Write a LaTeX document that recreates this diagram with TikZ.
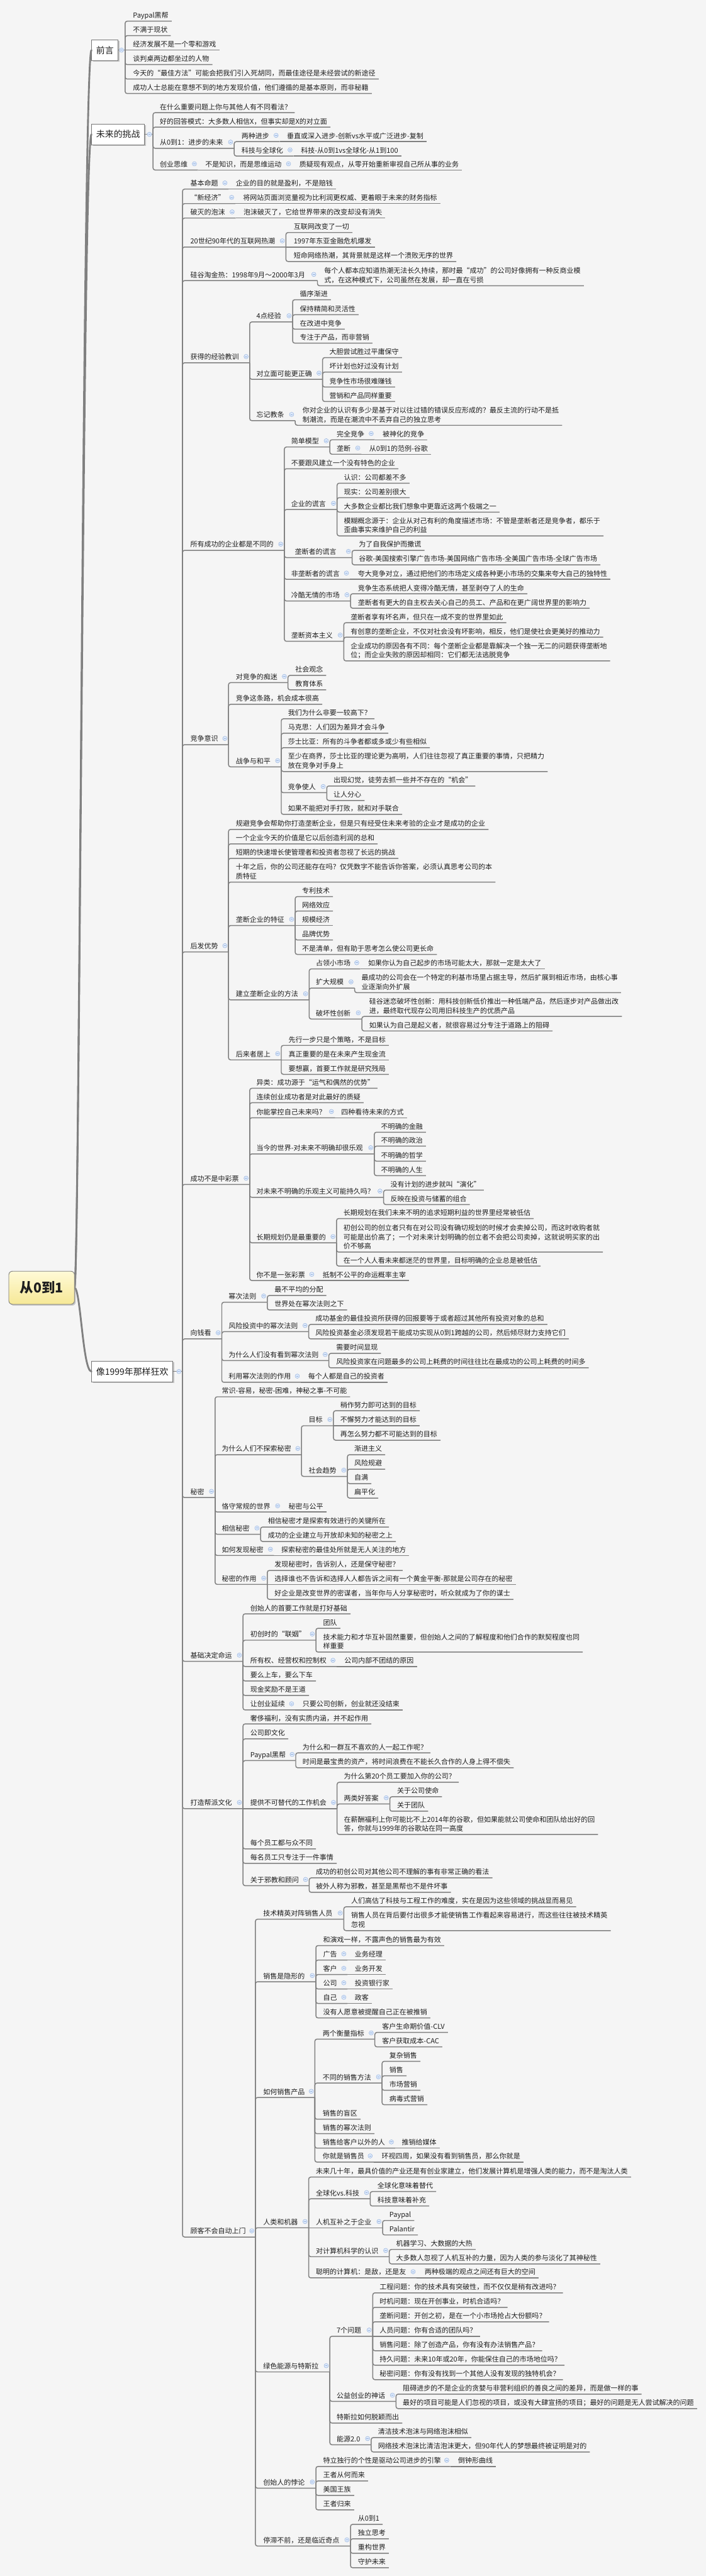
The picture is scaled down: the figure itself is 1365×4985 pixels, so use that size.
\documentclass[tikz,border=0pt]{standalone}
\usepackage{fontspec}
\newfontfamily\cjk{Noto Sans CJK SC}
\usepackage{xcolor}
\usepackage{tikz}
\usetikzlibrary{shadows}
\definecolor{bggray}{RGB}{245,245,245}
\definecolor{linegray}{RGB}{128,128,128}
\definecolor{boxedge}{RGB}{118,118,118}
\definecolor{shadowgray}{RGB}{150,150,150}
\definecolor{roottop}{RGB}{255,250,215}
\definecolor{rootbot}{RGB}{246,232,150}
\definecolor{foldfill}{RGB}{222,234,252}
\definecolor{foldedge}{RGB}{150,178,220}
\definecolor{inkgray}{RGB}{30,30,30}

\newcommand\tstrut{\rule[-4pt]{0pt}{4pt}}
% leaf: name, parent junction, x, underline y, text
\newcommand\tleaf[5]{%
  \node[topic] (#1) at (#3,#4-2) {#5\tstrut};
  \path (#1.east) ++(6,0) coordinate (#1-e);
  \draw[ln] (#2) |- (#1-e |- 0,#4);}
% leaf on the level of its parent
\newcommand\tleafs[5]{%
  \node[topic] (#1) at (#3,#4-2) {#5\tstrut};
  \path (#1.east) ++(6,0) coordinate (#1-e);
  \draw[ln] (#2) -- (#1-e |- 0,#4);}
% topic with children: name, parent junction, x, underline y, junction x, text
\newcommand\tnode[6]{%
  \node[topic] (#1) at (#3,#4-2) {#6\tstrut};
  \coordinate (#1-u) at (#5,#4);
  \draw[ln] (#2) |- (#1-u);
  \node[fold] (#1-f) at (#5-7,#4-12) {};}
\newcommand\tnodes[6]{%
  \node[topic] (#1) at (#3,#4-2) {#6\tstrut};
  \coordinate (#1-u) at (#5,#4);
  \draw[ln] (#2) -- (#1-u);
  \node[fold] (#1-f) at (#5-7,#4-12) {};}

\begin{document}
\begin{tikzpicture}[x=1pt, y=-1pt,
    topic/.style={anchor=south west, inner sep=0pt, align=left, text=inkgray,
                  font=\cjk\fontsize{13.4}{18}\selectfont},
    ln/.style={draw=linegray, line width=1.8pt, rounded corners=4pt},
    trunk/.style={draw=linegray, line width=3.5pt, line cap=round},
    fold/.style={circle, draw=foldedge, fill=foldfill, line width=0.6pt,
                 minimum size=8.5pt, inner sep=0pt,
                 path picture={\draw[foldedge, line width=0.9pt]
                   ([xshift=-2.2pt]path picture bounding box.center) --
                   ([xshift=2.2pt]path picture bounding box.center);}},
    mainbox/.style={draw=boxedge, fill=white, line width=1pt, anchor=west,
                    minimum height=40pt, inner xsep=8.5pt, text=inkgray,
                    font=\cjk\fontsize{17}{20}\selectfont,
                    drop shadow={shadow xshift=2.5pt, shadow yshift=-2.5pt, fill=shadowgray}},
    rootbox/.style={draw=boxedge, line width=1pt, rounded corners=7pt,
                    top color=roottop, bottom color=rootbot,
                    minimum width=127pt, minimum height=64pt, text=inkgray,
                    font=\cjk\bfseries\fontsize{26}{30}\selectfont,
                    drop shadow={shadow xshift=2.5pt, shadow yshift=-2.5pt, fill=shadowgray}}]

    % BACKGROUND
    \fill[bggray] (0,0) rectangle (1365,4985);
    \useasboundingbox (0,0) rectangle (1365,4985);

    % ROOT
    \coordinate (rt) at (144,2492);
    \node[mainbox] (qy) at (177,97) {前言};
    \node[mainbox] (wl) at (177,260) {未来的挑战};
    \node[mainbox] (kh) at (177,2654) {像1999年那样狂欢};
    \draw[trunk] (rt) .. controls (154,2492) and (160,97) .. (qy.west);
    \draw[trunk] (rt) .. controls (154,2492) and (160,260) .. (wl.west);
    \draw[trunk] (rt) .. controls (156,2492) and (160,2654) .. (kh.west);
    \node[rootbox] (root) at (80.5,2492) {从0到1};

    % BRANCH: 前言
    \coordinate (qy-u) at (242,97);
    \draw[ln] (qy.east) -- (qy-u);
    \node[fold] (qy-f) at (235,97) {};
    \tleaf{a1}{qy-u}{257}{41}{Paypal黑帮}
    \tleaf{a2}{qy-u}{257}{69}{不满于现状}
    \tleafs{a3}{qy-u}{257}{97}{经济发展不是一个零和游戏}
    \tleaf{a4}{qy-u}{257}{125}{谈判桌两边都坐过的人物}
    \tleaf{a5}{qy-u}{257}{153}{今天的“最佳方法”可能会把我们引入死胡同，而最佳途径是未经尝试的新途径}
    \tleaf{a6}{qy-u}{257}{181}{成功人士总能在意想不到的地方发现价值，他们遵循的是基本原则，而非秘籍}

    % BRANCH: 未来的挑战
    \coordinate (wl-u) at (296,260);
    \draw[ln] (wl.east) -- (wl-u);
    \node[fold] (wl-f) at (289,260) {};
    \tleaf{b1}{wl-u}{309}{218}{在什么重要问题上你与其他人有不同看法？}
    \tleaf{b2}{wl-u}{309}{246}{好的回答模式：大多数人相信X，但事实却是X的对立面}
    \tnode{b3}{wl-u}{309}{287}{453}{从0到1：进步的未来}
    \tnode{b31}{b3-u}{467}{274}{541}{两种进步}
    \tleafs{b311}{b31-u}{555}{274}{垂直或深入进步-创新vs水平或广泛进步-复制}
    \tnode{b32}{b3-u}{467}{302}{568}{科技与全球化}
    \tleafs{b321}{b32-u}{582}{302}{科技-从0到1vs全球化-从1到100}
    \tnode{b4}{wl-u}{309}{329}{383}{创业思维}
    \tnodes{b41}{b4-u}{397}{329}{565}{不是知识，而是思维运动}
    \tleafs{b411}{b41-u}{579}{329}{质疑现有观点，从零开始重新审视自己所从事的业务}

    % BRANCH: 像1999年那样狂欢
    \coordinate (kh-u) at (353,2654);
    \draw[ln] (kh.east) -- (kh-u);
    \node[fold] (kh-f) at (346,2654) {};
    \tnode{c1}{kh-u}{368}{366}{442}{基本命题}
    \tleafs{c11}{c1-u}{456}{366}{企业的目的就是盈利，不是赔钱}
    \tnode{c2}{kh-u}{368}{394}{455}{“新经济”}
    \tleafs{c21}{c2-u}{470}{394}{将网站页面浏览量视为比利润更权威、更着眼于未来的财务指标}
    \tnode{c3}{kh-u}{368}{422}{456}{破灭的泡沫}
    \tleafs{c31}{c3-u}{471}{422}{泡沫破灭了，它给世界带来的改变却没有消失}
    \tnode{c4}{kh-u}{368}{478}{553}{20世纪90年代的互联网热潮}
    \tleaf{c41}{c4-u}{568}{450}{互联网改变了一切}
    \tleafs{c42}{c4-u}{568}{478}{1997年东亚金融危机爆发}
    \tleaf{c43}{c4-u}{568}{506}{短命网络热潮，其背景就是这样一个溃败无序的世界}
    \tnode{c5}{kh-u}{368}{543}{614}{硅谷淘金热：1998年9月～2000年3月}
    \tleaf{c51}{c5-u}{627}{553}{每个人都本应知道热潮无法长久持续，那时最“成功”的公司好像拥有一种反商业模\\式，在这种模式下，公司虽然在发展，却一直在亏损}

    % 获得的经验教训
    \tnode{c6}{kh-u}{368}{702}{483}{获得的经验教训}
    \tnode{c61}{c6-u}{496}{623}{566}{4点经验}
    \tleaf{c611}{c61-u}{580}{580}{循序渐进}
    \tleaf{c612}{c61-u}{580}{609}{保持精简和灵活性}
    \tleaf{c613}{c61-u}{580}{637}{在改进中竞争}
    \tleaf{c614}{c61-u}{580}{664}{专注于产品，而非营销}
    \tnode{c62}{c6-u}{496}{734}{624}{对立面可能更正确}
    \tleaf{c621}{c62-u}{637}{692}{大胆尝试胜过平庸保守}
    \tleaf{c622}{c62-u}{637}{720}{坏计划也好过没有计划}
    \tleaf{c623}{c62-u}{637}{749}{竞争性市场很难赚钱}
    \tleaf{c624}{c62-u}{637}{777}{营销和产品同样重要}
    \tnode{c63}{c6-u}{496}{814}{571}{忘记教条}
    \tleaf{c631}{c63-u}{585}{823}{你对企业的认识有多少是基于对以往过错的错误反应形成的？最反主流的行动不是抵\\制潮流，而是在潮流中不丢弃自己的独立思考}

    % 所有成功的企业都是不同的
    \tnode{c7}{kh-u}{368}{1065}{550}{所有成功的企业都是不同的}
    \tnode{c71}{c7-u}{563}{865}{638}{简单模型}
    \tnode{c711}{c71-u}{651}{851}{725}{完全竞争}
    \tleafs{c7111}{c711-u}{740}{851}{被神化的竞争}
    \tnode{c712}{c71-u}{651}{879}{699}{垄断}
    \tleafs{c7121}{c712-u}{714}{879}{从0到1的范例-谷歌}
    \tleaf{c72}{c7-u}{563}{907}{不要跟风建立一个没有特色的企业}
    \tnode{c73}{c7-u}{563}{986}{652}{企业的谎言}
    \tleaf{c731}{c73-u}{665}{935}{认识：公司都差不多}
    \tleaf{c732}{c73-u}{665}{963}{现实：公司差别很大}
    \tleaf{c733}{c73-u}{665}{991}{大多数企业都比我们想象中更靠近这两个极端之一}
    \tleaf{c734}{c73-u}{665}{1037}{模糊概念源于：企业从对己有利的角度描述市场：不管是垄断者还是竞争者，都乐于\\歪曲事实来维护自己的利益}
    \tnode{c74}{c7-u}{570}{1079}{681}{垄断者的谎言}
    \tleaf{c741}{c74-u}{694}{1065}{为了自我保护而撒谎}
    \tleaf{c742}{c74-u}{694}{1093}{谷歌-美国搜索引擎广告市场-美国网络广告市场-全美国广告市场-全球广告市场}
    \tnode{c75}{c7-u}{563}{1121}{677}{非垄断者的谎言}
    \tleafs{c751}{c75-u}{692}{1121}{夸大竞争对立，通过把他们的市场定义成各种更小市场的交集来夸大自己的独特性}
    \tnode{c76}{c7-u}{563}{1163}{678}{冷酷无情的市场}
    \tleaf{c761}{c76-u}{692}{1149}{竞争生态系统把人变得冷酷无情，甚至剥夺了人的生命}
    \tleaf{c762}{c76-u}{692}{1177}{垄断者有更大的自主权去关心自己的员工、产品和在更广阔世界里的影响力}
    \tnode{c77}{c7-u}{563}{1241}{665}{垄断资本主义}
    \tleaf{c771}{c77-u}{678}{1205}{垄断者享有坏名声，但只在一成不变的世界里如此}
    \tleaf{c772}{c77-u}{678}{1233}{有创意的垄断企业，不仅对社会没有坏影响，相反，他们是使社会更美好的推动力}
    \tleaf{c773}{c77-u}{678}{1279}{企业成功的原因各有不同：每个垄断企业都是靠解决一个独一无二的问题获得垄断地\\位；而企业失败的原因却相同：它们都无法逃脱竞争}

    % 竞争意识
    \tnode{c8}{kh-u}{368}{1441}{442}{竞争意识}
    \tnode{c81}{c8-u}{456}{1321}{557}{对竞争的痴迷}
    \tleaf{c811}{c81-u}{571}{1307}{社会观念}
    \tleaf{c812}{c81-u}{571}{1335}{教育体系}
    \tleaf{c82}{c8-u}{456}{1363}{竞争这条路，机会成本很高}
    \tnode{c83}{c8-u}{456}{1484}{544}{战争与和平}
    \tleaf{c831}{c83-u}{557}{1391}{我们为什么非要一较高下？}
    \tleaf{c832}{c83-u}{557}{1419}{马克思：人们因为差异才会斗争}
    \tleaf{c833}{c83-u}{557}{1447}{莎士比亚：所有的斗争者都或多或少有些相似}
    \tleaf{c834}{c83-u}{557}{1493}{至少在商界，莎士比亚的理论更为高明，人们往往忽视了真正重要的事情，只把精力\\放在竞争对手身上}
    \tnode{c835}{c83-u}{557}{1534}{632}{竞争使人}
    \tleaf{c8351}{c835-u}{645}{1521}{出现幻觉，徒劳去抓一些并不存在的“机会”}
    \tleaf{c8352}{c835-u}{645}{1549}{让人分心}
    \tleaf{c836}{c83-u}{557}{1576}{如果不能把对手打败，就和对手联合}

    % 后发优势
    \tnode{c9}{kh-u}{368}{1842}{442}{后发优势}
    \tleaf{c91}{c9-u}{456}{1605}{规避竞争会帮助你打造垄断企业，但是只有经受住未来考验的企业才是成功的企业}
    \tleaf{c92}{c9-u}{456}{1633}{一个企业今天的价值是它以后创造利润的总和}
    \tleaf{c93}{c9-u}{456}{1661}{短期的快速增长使管理者和投资者忽视了长远的挑战}
    \tleaf{c94}{c9-u}{456}{1707}{十年之后，你的公司还能存在吗？仅凭数字不能告诉你答案，必须认真思考公司的本\\质特征}
    \tnode{c95}{c9-u}{456}{1791}{571}{垄断企业的特征}
    \tleaf{c951}{c95-u}{584}{1735}{专利技术}
    \tleaf{c952}{c95-u}{584}{1763}{网络效应}
    \tleafs{c953}{c95-u}{584}{1791}{规模经济}
    \tleaf{c954}{c95-u}{584}{1819}{品牌优势}
    \tleaf{c955}{c95-u}{584}{1847}{不是清单，但有助于思考怎么使公司更长命}
    \tnode{c96}{c9-u}{456}{1935}{598}{建立垄断企业的方法}
    \tnode{c961}{c96-u}{611}{1875}{697}{占领小市场}
    \tleafs{c9611}{c961-u}{712}{1875}{如果你认为自己起步的市场可能太大，那就一定是太大了}
    \tnode{c962}{c96-u}{611}{1912}{686}{扩大规模}
    \tleaf{c9621}{c962-u}{699}{1921}{最成功的公司会在一个特定的利基市场里占据主导，然后扩展到相近市场，由核心事\\业逐渐向外扩展}
    \tnode{c963}{c96-u}{611}{1972}{700}{破坏性创新}
    \tleaf{c9631}{c963-u}{714}{1967}{硅谷迷恋破坏性创新：用科技创新低价推出一种低端产品，然后逐步对产品做出改\\进，最终取代现存公司用旧科技生产的优质产品}
    \tleaf{c9632}{c963-u}{714}{1995}{如果认为自己是起义者，就很容易过分专注于道路上的阻碍}
    \tnode{c97}{c9-u}{456}{2051}{544}{后来者居上}
    \tleaf{c971}{c97-u}{558}{2023}{先行一步只是个策略，不是目标}
    \tleafs{c972}{c97-u}{558}{2051}{真正重要的是在未来产生现金流}
    \tleaf{c973}{c97-u}{558}{2079}{要想赢，首要工作就是研究残局}

    % 成功不是中彩票
    \tnode{c10}{kh-u}{368}{2292}{483}{成功不是中彩票}
    \tleaf{c101}{c10-u}{496}{2106}{异类：成功源于“运气和偶然的优势”}
    \tleaf{c102}{c10-u}{496}{2134}{连续创业成功者是对此最好的质疑}
    \tnode{c103}{c10-u}{496}{2163}{648}{你能掌控自己未来吗？}
    \tleafs{c1031}{c103-u}{660}{2163}{四种看待未来的方式}
    \tnode{c104}{c10-u}{496}{2233}{724}{当今的世界-对未来不明确却很乐观}
    \tleaf{c1041}{c104-u}{737}{2191}{不明确的金融}
    \tleaf{c1042}{c104-u}{737}{2218}{不明确的政治}
    \tleaf{c1043}{c104-u}{737}{2247}{不明确的哲学}
    \tleaf{c1044}{c104-u}{737}{2275}{不明确的人生}
    \tnode{c105}{c10-u}{496}{2317}{742}{对未来不明确的乐观主义可能持久吗？}
    \tleaf{c1051}{c105-u}{755}{2303}{没有计划的进步就叫“演化”}
    \tleaf{c1052}{c105-u}{755}{2331}{反映在投资与储蓄的组合}
    \tnode{c106}{c10-u}{496}{2405}{651}{长期规划仍是最重要的}
    \tleaf{c1061}{c106-u}{664}{2358}{长期规划在我们未来不明的追求短期利益的世界里经常被低估}
    \tleaf{c1062}{c106-u}{664}{2423}{初创公司的创立者只有在对公司没有确切规划的时候才会卖掉公司，而这时收购者就\\可能是出价高了；一个对未来计划明确的创立者不会把公司卖掉，这就说明买家的出\\价不够高}
    \tleaf{c1063}{c106-u}{664}{2450}{在一个人人看未来都迷茫的世界里，目标明确的企业总是被低估}
    \tnode{c107}{c10-u}{496}{2478}{610}{你不是一张彩票}
    \tleafs{c1071}{c107-u}{624}{2478}{抵制不公平的命运概率主宰}

    % 向钱看
    \tnode{c11}{kh-u}{368}{2591}{429}{向钱看}
    \tnode{c111}{c11-u}{442}{2520}{517}{幂次法则}
    \tleaf{c1111}{c111-u}{531}{2507}{最不平均的分配}
    \tleaf{c1112}{c111-u}{531}{2535}{世界处在幂次法则之下}
    \tnode{c112}{c11-u}{442}{2577}{597}{风险投资中的幂次法则}
    \tleaf{c1121}{c112-u}{610}{2563}{成功基金的最佳投资所获得的回报要等于或者超过其他所有投资对象的总和}
    \tleaf{c1122}{c112-u}{610}{2591}{风险投资基金必须发现若干能成功实现从0到1跨越的公司，然后倾尽财力支持它们}
    \tnode{c113}{c11-u}{442}{2633}{636}{为什么人们没有看到幂次法则}
    \tleaf{c1131}{c113-u}{650}{2619}{需要时间显现}
    \tleaf{c1132}{c113-u}{650}{2647}{风险投资家在问题最多的公司上耗费的时间往往比在最成功的公司上耗费的时间多}
    \tnode{c114}{c11-u}{442}{2675}{582}{利用幂次法则的作用}
    \tleafs{c1141}{c114-u}{596}{2675}{每个人都是自己的投资者}

    % 秘密
    \tnode{c12}{kh-u}{368}{2898}{416}{秘密}
    \tleaf{c121}{c12-u}{429}{2703}{常识-容易，秘密-困难，神秘之事-不可能}
    \tnode{c122}{c12-u}{429}{2815}{583}{为什么人们不探索秘密}
    \tnode{c1221}{c122-u}{597}{2759}{645}{目标}
    \tleaf{c12211}{c1221-u}{658}{2730}{稍作努力即可达到的目标}
    \tleafs{c12212}{c1221-u}{658}{2759}{不懈努力才能达到的目标}
    \tleaf{c12213}{c1221-u}{658}{2787}{再怎么努力都不可能达到的目标}
    \tnode{c1222}{c122-u}{597}{2857}{672}{社会趋势}
    \tleaf{c12221}{c1222-u}{685}{2815}{渐进主义}
    \tleaf{c12222}{c1222-u}{685}{2843}{风险规避}
    \tleaf{c12223}{c1222-u}{685}{2871}{自满}
    \tleaf{c12224}{c1222-u}{685}{2899}{扁平化}
    \tnode{c123}{c12-u}{429}{2926}{544}{恪守常规的世界}
    \tleafs{c1231}{c123-u}{558}{2926}{秘密与公平}
    \tnode{c124}{c12-u}{429}{2969}{504}{相信秘密}
    \tleaf{c1241}{c124-u}{518}{2955}{相信秘密才是探索有效进行的关键所在}
    \tleaf{c1242}{c124-u}{518}{2983}{成功的企业建立与开放却未知的秘密之上}
    \tnode{c125}{c12-u}{429}{3010}{530}{如何发现秘密}
    \tleafs{c1251}{c125-u}{544}{3010}{探索秘密的最佳处所就是无人关注的地方}
    \tnode{c126}{c12-u}{429}{3066}{517}{秘密的作用}
    \tleaf{c1261}{c126-u}{531}{3039}{发现秘密时，告诉别人，还是保守秘密？}
    \tleafs{c1262}{c126-u}{531}{3066}{选择谁也不告诉和选择人人都告诉之间有一个黄金平衡-那就是公司存在的秘密}
    \tleaf{c1263}{c126-u}{531}{3095}{好企业是改变世界的密谋者，当年你与人分享秘密时，听众就成为了你的谋士}

    % 基础决定命运
    \tnode{c13}{kh-u}{368}{3215}{470}{基础决定命运}
    \tleaf{c131}{c13-u}{484}{3123}{创始人的首要工作就是打好基础}
    \tnode{c132}{c13-u}{484}{3174}{611}{初创时的“联姻”}
    \tleaf{c1321}{c132-u}{625}{3151}{团队}
    \tleaf{c1322}{c132-u}{625}{3197}{技术能力和才华互补固然重要，但创始人之间的了解程度和他们合作的默契程度也同\\样重要}
    \tnode{c133}{c13-u}{484}{3225}{651}{所有权、经营权和控制权}
    \tleafs{c1331}{c133-u}{666}{3225}{公司内部不团结的原因}
    \tleaf{c134}{c13-u}{484}{3253}{要么上车，要么下车}
    \tleaf{c135}{c13-u}{484}{3281}{现金奖励不是王道}
    \tnode{c136}{c13-u}{484}{3309}{571}{让创业延续}
    \tleafs{c1361}{c136-u}{585}{3309}{只要公司创新，创业就还没结束}

    % 打造帮派文化
    \tnode{c14}{kh-u}{368}{3500}{470}{打造帮派文化}
    \tleaf{c141}{c14-u}{484}{3336}{奢侈福利，没有实质内涵，并不起作用}
    \tleaf{c142}{c14-u}{484}{3365}{公司即文化}
    \tnode{c143}{c14-u}{484}{3407}{572}{Paypal黑帮}
    \tleaf{c1431}{c143-u}{585}{3392}{为什么和一群互不喜欢的人一起工作呢？}
    \tleaf{c1432}{c143-u}{585}{3421}{时间是最宝贵的资产，将时间浪费在不能长久合作的人身上得不偿失}
    \tnodes{c144}{c14-u}{484}{3500}{652}{提供不可替代的工作机会}
    \tleaf{c1441}{c144-u}{665}{3449}{为什么第20个员工要加入你的公司？}
    \tnode{c1442}{c144-u}{665}{3491}{754}{两类好答案}
    \tleaf{c14421}{c1442-u}{768}{3477}{关于公司使命}
    \tleaf{c14422}{c1442-u}{768}{3505}{关于团队}
    \tleaf{c1443}{c144-u}{665}{3550}{在薪酬福利上你可能比不上2014年的谷歌，但如果能就公司使命和团队给出好的回\\答，你就与1999年的谷歌站在同一高度}
    \tleaf{c145}{c14-u}{484}{3578}{每个员工都与众不同}
    \tleaf{c146}{c14-u}{484}{3606}{每名员工只专注于一件事情}
    \tnode{c147}{c14-u}{484}{3649}{598}{关于邪教和顾问}
    \tleaf{c1471}{c147-u}{611}{3634}{成功的初创公司对其他公司不理解的事有非常正确的看法}
    \tleaf{c1472}{c147-u}{611}{3662}{被外人称为邪教，甚至是黑帮也不是件坏事}

    % 顾客不会自动上门
    \tnode{c15}{kh-u}{368}{4329}{494}{顾客不会自动上门}
    \tnode{c151}{c15-u}{509}{3714}{665}{技术精英对阵销售人员}
    \tleaf{c1511}{c151-u}{679}{3690}{人们高估了科技与工程工作的难度，实在是因为这些领域的挑战显而易见}
    \tleaf{c1512}{c151-u}{679}{3736}{销售人员在背后要付出很多才能使销售工作看起来容易进行，而这些往往被技术精英\\忽视}
    \tnode{c152}{c15-u}{509}{3835}{611}{销售是隐形的}
    \tleaf{c1521}{c152-u}{625}{3765}{和演戏一样，不露声色的销售最为有效}
    \tnode{c1522}{c152-u}{625}{3793}{672}{广告}
    \tleafs{c15221}{c1522-u}{686}{3793}{业务经理}
    \tnode{c1523}{c152-u}{625}{3821}{672}{客户}
    \tleafs{c15231}{c1523-u}{686}{3821}{业务开发}
    \tnode{c1524}{c152-u}{625}{3849}{672}{公司}
    \tleafs{c15241}{c1524-u}{686}{3849}{投资银行家}
    \tnode{c1525}{c152-u}{625}{3877}{672}{自己}
    \tleafs{c15251}{c1525-u}{686}{3877}{政客}
    \tleaf{c1526}{c152-u}{625}{3905}{没有人愿意被提醒自己正在被推销}
    \tnode{c153}{c15-u}{509}{4059}{609}{如何销售产品}
    \tnode{c1531}{c153-u}{624}{3946}{725}{两个衡量指标}
    \tleaf{c15311}{c1531-u}{739}{3933}{客户生命期价值-CLV}
    \tleaf{c15312}{c1531-u}{739}{3961}{客户获取成本-CAC}
    \tnode{c1532}{c153-u}{624}{4031}{739}{不同的销售方法}
    \tleaf{c15321}{c1532-u}{753}{3989}{复杂销售}
    \tleaf{c15322}{c1532-u}{753}{4017}{销售}
    \tleaf{c15323}{c1532-u}{753}{4045}{市场营销}
    \tleaf{c15324}{c1532-u}{753}{4073}{病毒式营销}
    \tleaf{c1533}{c153-u}{624}{4101}{销售的盲区}
    \tleaf{c1534}{c153-u}{624}{4129}{销售的幂次法则}
    \tnode{c1535}{c153-u}{624}{4157}{764}{销售给客户以外的人}
    \tleafs{c15351}{c1535-u}{777}{4157}{推销给媒体}
    \tnode{c1536}{c153-u}{624}{4184}{723}{你就是销售员}
    \tleafs{c15361}{c1536-u}{738}{4184}{环视四周，如果没有看到销售员，那么你就是}
    \tnode{c154}{c15-u}{509}{4311}{597}{人类和机器}
    \tleaf{c1541}{c154-u}{611}{4213}{未来几十年，最具价值的产业还是有创业家建立，他们发展计算机是增强人类的能力，而不是淘汰人类}
    \tnode{c1542}{c154-u}{611}{4255}{716}{全球化vs.科技}
    \tleaf{c15421}{c1542-u}{730}{4241}{全球化意味着替代}
    \tleaf{c15422}{c1542-u}{730}{4269}{科技意味着补充}
    \tnodes{c1543}{c154-u}{611}{4311}{740}{人机互补之于企业}
    \tleaf{c15431}{c1543-u}{753}{4297}{Paypal}
    \tleaf{c15432}{c1543-u}{753}{4325}{Palantir}
    \tnode{c1544}{c154-u}{611}{4367}{753}{对计算机科学的认识}
    \tleaf{c15441}{c1544-u}{766}{4353}{机器学习、大数据的大热}
    \tleaf{c15442}{c1544-u}{766}{4381}{大多数人忽视了人机互补的力量，因为人类的参与淡化了其神秘性}
    \tnode{c1545}{c154-u}{611}{4408}{806}{聪明的计算机：是敌，还是友}
    \tleafs{c15451}{c1545-u}{821}{4408}{两种极端的观点之间还有巨大的空间}
    \tnode{c155}{c15-u}{509}{4590}{638}{绿色能源与特斯拉}
    \tnode{c1551}{c155-u}{651}{4521}{721}{7个问题}
    \tleaf{c15511}{c1551-u}{734}{4437}{工程问题：你的技术具有突破性，而不仅仅是稍有改进吗？}
    \tleaf{c15512}{c1551-u}{734}{4465}{时机问题：现在开创事业，时机合适吗？}
    \tleaf{c15513}{c1551-u}{734}{4493}{垄断问题：开创之初，是在一个小市场抢占大份额吗？}
    \tleafs{c15514}{c1551-u}{734}{4521}{人员问题：你有合适的团队吗？}
    \tleaf{c15515}{c1551-u}{734}{4549}{销售问题：除了创造产品，你有没有办法销售产品？}
    \tleaf{c15516}{c1551-u}{734}{4577}{持久问题：未来10年或20年，你能保住自己的市场地位吗？}
    \tleaf{c15517}{c1551-u}{734}{4605}{秘密问题：你有没有找到一个其他人没有发现的独特机会？}
    \tnode{c1552}{c155-u}{651}{4647}{766}{公益创业的神话}
    \tleaf{c15521}{c1552-u}{779}{4633}{阻碍进步的不是企业的贪婪与非营利组织的善良之间的差异，而是做一样的事}
    \tleaf{c15522}{c1552-u}{779}{4661}{最好的项目可能是人们忽视的项目，或没有大肆宣扬的项目；最好的问题是无人尝试解决的问题}
    \tleaf{c1553}{c155-u}{651}{4689}{特斯拉如何脱颖而出}
    \tnode{c1554}{c155-u}{651}{4731}{718}{能源2.0}
    \tleaf{c15541}{c1554-u}{731}{4717}{清洁技术泡沫与网络泡沫相似}
    \tleaf{c15542}{c1554-u}{731}{4745}{网络技术泡沫比清洁泡沫更大，但90年代人的梦想最终被证明是对的}
    \tnode{c156}{c15-u}{509}{4815}{611}{创始人的悖论}
    \tnode{c1561}{c156-u}{625}{4773}{871}{特立独行的个性是驱动公司进步的引擎}
    \tleafs{c15611}{c1561-u}{886}{4773}{倒钟形曲线}
    \tleaf{c1562}{c156-u}{625}{4801}{王者从何而来}
    \tleaf{c1563}{c156-u}{625}{4829}{美国王族}
    \tleaf{c1564}{c156-u}{625}{4857}{王者归来}
    \tnode{c157}{c15-u}{509}{4927}{678}{停滞不前，还是临近奇点}
    \tleaf{c1571}{c157-u}{692}{4885}{从0到1}
    \tleaf{c1572}{c157-u}{692}{4913}{独立思考}
    \tleaf{c1573}{c157-u}{692}{4941}{重构世界}
    \tleaf{c1574}{c157-u}{692}{4969}{守护未来}

\end{tikzpicture}
\end{document}
